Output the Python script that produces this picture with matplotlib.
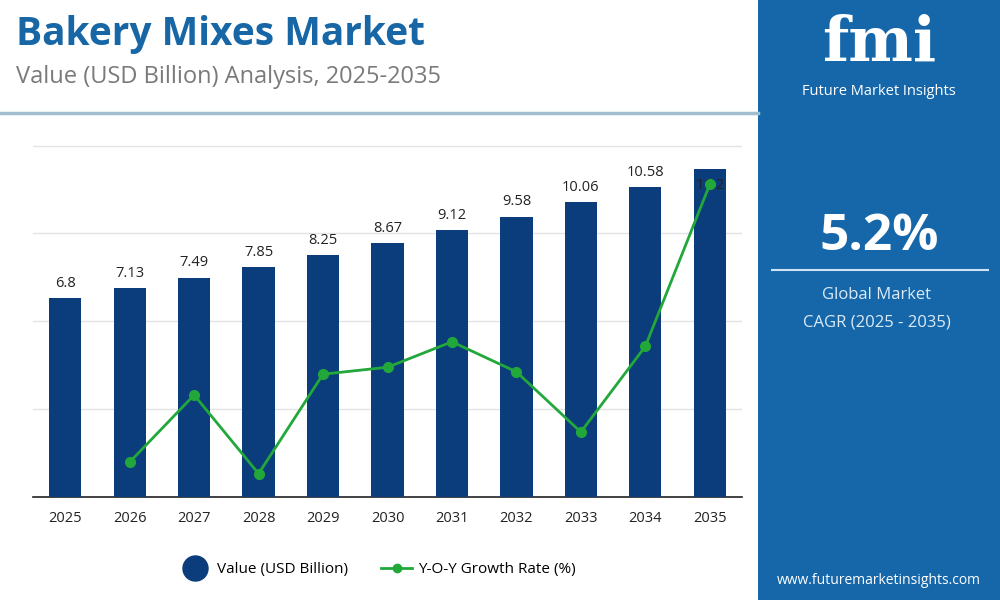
import matplotlib.pyplot as plt
from matplotlib.lines import Line2D
from matplotlib.patches import Rectangle

# data
years = ["2025", "2026", "2027", "2028", "2029", "2030",
         "2031", "2032", "2033", "2034", "2035"]
values = [6.8, 7.13, 7.49, 7.85, 8.25, 8.67, 9.12, 9.58, 10.06, 10.58, 11.2]
growth_years = years[1:]
growth = [4.86, 5.15, 4.81, 5.24, 5.27, 5.38, 5.25, 4.99, 5.36, 6.06]

BAR = "#0b3c7c"
GREEN = "#22a83a"
PANEL = "#1567aa"
TITLE = "#1766a5"

plt.rcParams['font.family'] = ['Open Sans', 'DejaVu Sans']

fig = plt.figure(figsize=(10, 6), dpi=100)
fig.patch.set_facecolor("white")

# right blue panel
fig.add_artist(Rectangle((0.758, 0), 0.242, 1, transform=fig.transFigure,
                         facecolor=PANEL, edgecolor="none", zorder=0))
# header separator line
fig.add_artist(Line2D([0, 0.758], [0.812, 0.812], transform=fig.transFigure,
                      color="#9fbfd0", linewidth=2.5))

# titles
fig.text(0.016, 0.942, "Bakery Mixes Market", fontsize=28, fontweight="bold",
         color=TITLE, va="center", ha="left")
fig.text(0.016, 0.872, "Value (USD Billion) Analysis, 2025-2035", fontsize=17,
         color="#7a7a7a", va="center", ha="left")

# panel texts
fig.text(0.879, 0.928, "fmi", fontsize=44, fontweight="bold", color="white",
         ha="center", va="center", family=["DejaVu Serif"])
fig.text(0.879, 0.848, "Future Market Insights", fontsize=10.5, color="white",
         ha="center", va="center")
fig.text(0.879, 0.605, "5.2%", fontsize=37, fontweight="bold", color="white",
         ha="center", va="center")
fig.add_artist(Line2D([0.772, 0.988], [0.55, 0.55], transform=fig.transFigure,
                      color="#cfe3f3", linewidth=1.5))
fig.text(0.877, 0.508, "Global Market", fontsize=12, color="#dcebf7",
         ha="center", va="center")
fig.text(0.877, 0.463, "CAGR (2025 - 2035)", fontsize=12, color="#dcebf7",
         ha="center", va="center")
fig.text(0.879, 0.033, "www.futuremarketinsights.com", fontsize=10,
         color="white", ha="center", va="center")

# main chart
ax = fig.add_axes([0.033, 0.172, 0.709, 0.59])
x = list(range(len(years)))
bars = ax.bar(x, values, width=0.5, color=BAR, zorder=3)
for xi, v in zip(x, values):
    # the label that would leave the plot area is drawn inside the bar
    ly = v + 0.25 if v + 0.25 < 11.3 else 10.4
    ax.text(xi, ly, f"{v:g}", ha="center", va="bottom",
            fontsize=10.5, color="#222222", zorder=4)

ax.set_xlim(-0.5, 10.5)
ax.set_ylim(0, 12.1)
ax.set_yticks([0, 3, 6, 9, 12])
ax.yaxis.grid(True, color="#e3e3e3", linewidth=1, zorder=0)
ax.set_yticklabels([])
ax.tick_params(axis="y", length=0)
ax.set_xticks(x)
ax.set_xticklabels(years, fontsize=10.5, color="#222222")
ax.tick_params(axis="x", length=0, pad=10)
for s in ["top", "right", "left"]:
    ax.spines[s].set_visible(False)
ax.spines["bottom"].set_color("#222222")
ax.spines["bottom"].set_linewidth(1.2)

ax2 = ax.twinx()
ax2.plot(x[1:], growth, color=GREEN, linewidth=2, marker="o",
         markersize=7, zorder=5)
ax2.set_ylim(4.71, 6.24)
ax2.set_yticks([])
for s in ax2.spines.values():
    s.set_visible(False)
ax2.set_xlim(-0.5, 10.5)

# legend
handles = [
    Line2D([], [], marker="o", linestyle="none", color=BAR, markersize=18),
    Line2D([], [], marker="o", color=GREEN, linewidth=2, markersize=6),
]
fig.legend(handles, ["Value (USD Billion)", "Y-O-Y Growth Rate (%)"],
           loc="center", bbox_to_anchor=(0.378, 0.05), ncol=2, frameon=False,
           fontsize=11, handlelength=2.0, handletextpad=0.4,
           columnspacing=2.2)

fig.savefig("out.png", dpi=100)
